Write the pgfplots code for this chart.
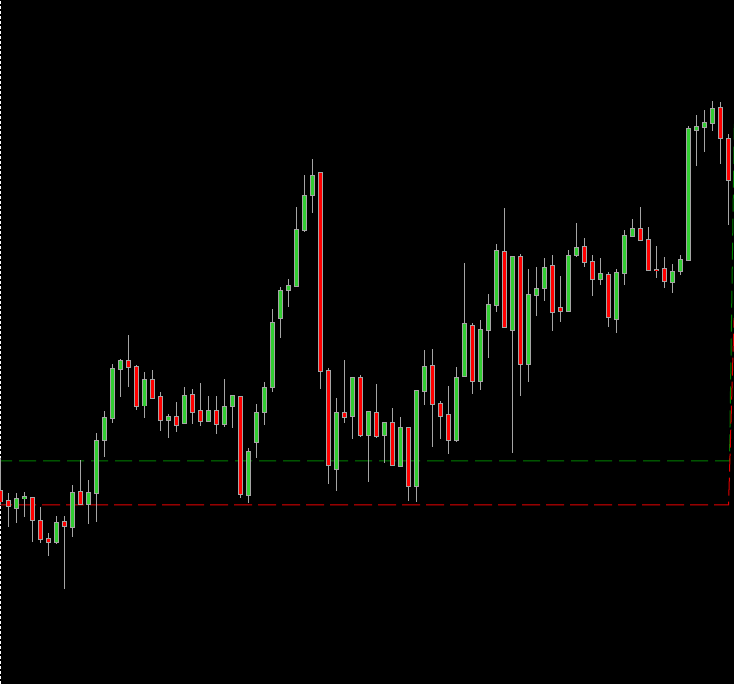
\documentclass[border=0pt]{standalone}
\usepackage{pgfplots}
\pgfplotsset{compat=1.18}
\usepackage{pgfplotstable}

\definecolor{bullfill}{RGB}{50,205,50}
\definecolor{bearfill}{RGB}{255,0,0}
\definecolor{wick}{RGB}{165,165,165}
\definecolor{supgreen}{RGB}{0,128,0}
\definecolor{resred}{RGB}{230,0,0}

% candle index, open, high, low, close
\pgfplotstableread{
x o h l c
2 175.7 190.7 161.3 184.7
3 185.3 191.7 167.3 187.0
7 141.7 167.7 139.7 160.7
9 156.7 199.0 147.3 190.7
11 179.7 203.7 159.7 190.7
12 190.7 250.7 162.3 242.7
13 243.7 272.7 226.7 265.7
14 265.7 319.7 260.7 314.7
15 314.7 324.7 287.3 322.7
18 278.3 311.7 266.3 303.7
21 263.7 269.7 245.7 266.7
23 260.7 296.7 260.7 287.7
26 262.7 287.7 262.7 272.7
28 259.7 304.7 256.7 276.7
29 277.7 287.7 255.7 287.7
31 188.7 235.7 180.7 231.7
32 241.7 279.7 225.7 270.7
33 271.7 301.7 258.7 295.7
34 296.7 374.7 291.7 360.7
35 365.7 396.7 345.7 392.7
36 393.7 404.7 376.7 397.7
37 397.7 476.7 397.7 453.7
38 453.7 508.7 451.7 487.7
39 488.7 524.7 470.7 507.7
42 214.7 285.7 192.7 270.7
44 267.7 306.7 244.7 305.7
46 248.7 271.7 201.7 271.7
48 248.7 261.7 220.7 260.7
50 217.7 266.7 217.7 255.7
52 197.7 292.7 181.7 292.7
53 292.7 333.7 278.7 316.7
57 243.7 316.7 241.7 305.7
58 307.7 420.7 307.7 359.7
60 302.7 363.7 294.3 353.7
61 353.7 389.7 325.7 378.7
62 378.7 439.7 371.7 432.7
64 353.7 426.7 230.7 426.7
66 319.7 414.7 301.7 388.7
67 388.7 416.7 367.7 394.7
68 395.7 425.7 382.7 415.7
71 372.7 433.7 371.7 427.7
72 428.7 460.7 426.7 435.7
75 404.7 425.7 398.7 409.7
77 364.7 414.7 350.7 410.7
78 410.7 453.7 398.7 447.7
79 447.7 464.7 447.7 454.7
84 401.7 419.7 390.7 411.7
85 412.7 428.7 408.7 423.7
86 423.7 557.7 423.7 554.7
87 553.7 568.7 518.3 556.7
88 556.7 573.7 531.7 560.7
89 560.7 582.7 552.7 574.7
}\bull

\pgfplotstableread{
x o h l c
0 193.3 226.0 179.0 182.3
1 182.7 190.7 157.3 178.0
4 185.7 185.7 142.3 163.7
5 162.7 177.0 141.3 144.7
6 144.7 150.7 128.3 141.7
8 161.7 167.7 95.3 157.7
10 191.7 224.0 179.7 179.7
16 322.7 349.0 297.3 316.7
17 316.7 318.7 273.7 277.7
19 303.7 313.7 285.7 285.7
20 286.7 291.7 253.3 263.7
22 266.7 281.7 251.7 258.7
24 288.7 294.7 259.7 271.7
25 272.7 300.7 257.7 262.7
27 272.7 287.7 249.7 259.7
30 286.7 287.7 185.7 189.7
40 510.7 511.7 294.7 312.7
41 312.7 315.7 199.7 218.7
43 270.7 323.7 260.7 266.7
45 305.7 308.7 246.7 248.7
47 270.7 299.7 245.7 247.7
49 260.7 275.7 218.7 218.7
51 255.7 256.7 182.7 197.7
54 317.7 334.7 236.7 279.7
55 279.7 282.7 244.7 267.7
56 268.7 297.7 229.7 243.7
59 357.7 360.7 289.7 302.7
63 431.7 475.7 356.7 356.7
65 426.7 429.7 287.7 319.7
69 417.7 428.7 352.7 371.7
70 375.7 407.7 361.7 372.7
73 436.7 445.7 416.7 421.7
74 421.7 428.7 387.7 404.7
76 408.7 411.7 356.7 366.7
80 454.7 476.7 443.7 443.7
81 443.7 456.7 413.7 413.7
82 413.7 437.7 405.7 413.5
83 414.7 426.7 395.7 402.7
90 575.7 581.7 519.7 545.7
91 544.7 549.7 458.7 503.7
}\bear

\pgfplotsset{
  wicks/.style={draw=none, mark=none, forget plot,
    error bars/.cd, y dir=both, y explicit, error mark=none,
    error bar style={draw=wick, line width=1pt, solid}},
  bodyedge/.style={draw=none, mark=none, forget plot,
    error bars/.cd, y dir=both, y explicit, error mark=none,
    error bar style={draw=wick, line width=5pt, solid}},
  bodyfill/.style={draw=none, mark=none, forget plot,
    error bars/.cd, y dir=both, y explicit, error mark=none,
    error bar style={draw=#1, line width=3pt, solid}},
}

\begin{document}
\begin{tikzpicture}
\begin{axis}[
    width=734pt, height=684pt,
    scale only axis,
    xmin=-0.0375, xmax=91.7125,
    ymin=0, ymax=684,
    xtick=\empty, ytick=\empty,
    axis line style={draw=none},
    axis background/.style={fill=black},
]
% support / resistance levels
\addplot [supgreen, line width=1pt, dash pattern=on 17pt off 7pt, dash phase=5pt, forget plot]
  coordinates {(-0.0375,223) (91.15,223) (91.65,504) (91.75,560)};
\addplot [resred, line width=1pt, dash pattern=on 18pt off 6pt, dash phase=6pt, forget plot]
  coordinates {(-0.0375,179) (91.03,179) (91.72,366)};
% left border marker
\addplot [white, line width=1pt, dash pattern=on 3pt off 2pt, forget plot]
  coordinates {(0.025,0) (0.025,684)};

% wicks
\addplot [wicks] table [x=x, y expr=(\thisrow{h}+\thisrow{l})/2,
  y error expr=(\thisrow{h}-\thisrow{l})/2] {\bull};
\addplot [wicks] table [x=x, y expr=(\thisrow{h}+\thisrow{l})/2,
  y error expr=(\thisrow{h}-\thisrow{l})/2] {\bear};
% bodies
\addplot [bodyedge] table [x=x, y expr=(\thisrow{o}+\thisrow{c})/2,
  y error expr=abs(\thisrow{c}-\thisrow{o})/2+0.8] {\bull};
\addplot [bodyedge] table [x=x, y expr=(\thisrow{o}+\thisrow{c})/2,
  y error expr=abs(\thisrow{c}-\thisrow{o})/2+0.8] {\bear};
\addplot [bodyfill=bullfill] table [x=x, y expr=(\thisrow{o}+\thisrow{c})/2,
  y error expr=abs(\thisrow{c}-\thisrow{o})/2] {\bull};
\addplot [bodyfill=bearfill] table [x=x, y expr=(\thisrow{o}+\thisrow{c})/2,
  y error expr=abs(\thisrow{c}-\thisrow{o})/2] {\bear};
\end{axis}
\end{tikzpicture}
\end{document}
